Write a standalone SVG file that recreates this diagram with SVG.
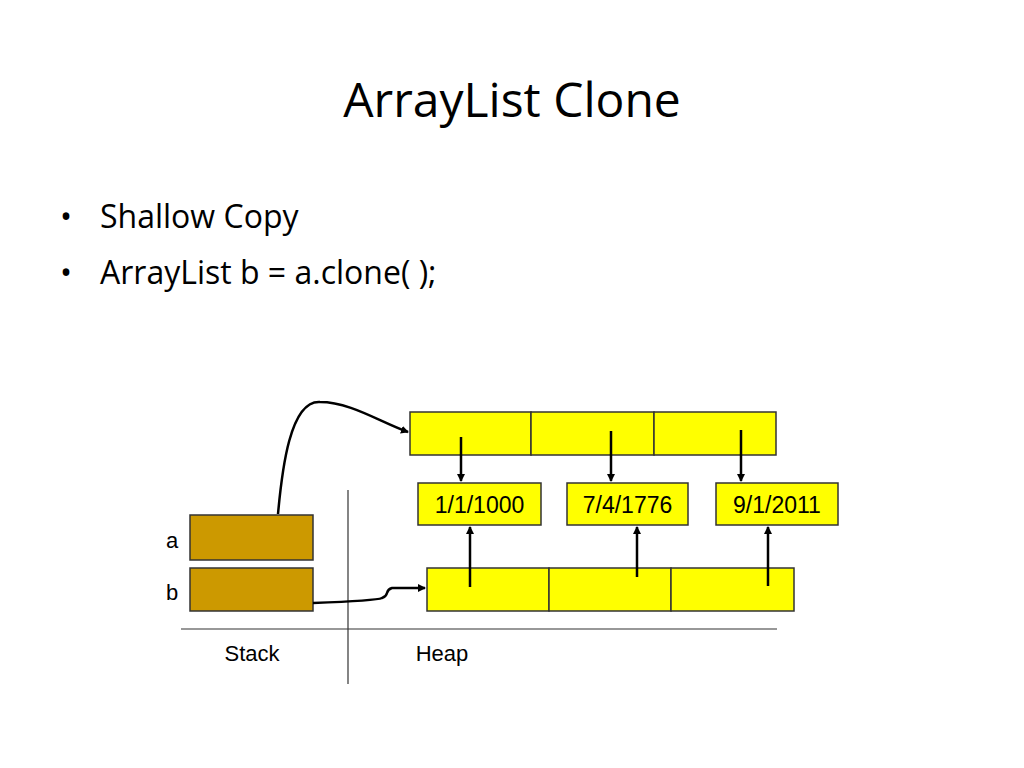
<svg xmlns="http://www.w3.org/2000/svg" width="1024" height="768" viewBox="0 0 1024 768">
<style>
.t{font-family:"Liberation Sans",Arial,sans-serif;fill:#000}
.s{font-family:"Open Sans","Liberation Sans",sans-serif;fill:#000}
.cell{fill:#ffff00;stroke:#333;stroke-width:1.5}
.stk{fill:#cc9900;stroke:#333;stroke-width:1.5}
.ar{stroke:#000;stroke-width:2.5;fill:none;marker-end:url(#ah)}
</style>
<defs><marker id="ah" markerWidth="8" markerHeight="8" refX="7" refY="4" orient="auto" markerUnits="userSpaceOnUse"><path d="M0,0 L8,4 L0,8z" fill="#000"/></marker></defs>
<rect width="1024" height="768" fill="#fff"/>
<text class="s" x="512" y="117" font-size="48" text-anchor="middle">ArrayList Clone</text>
<text class="s" x="60" y="228" font-size="32">•</text>
<text class="s" x="100" y="228" font-size="32">Shallow Copy</text>
<text class="s" x="60" y="284" font-size="32">•</text>
<text class="s" x="100" y="284" font-size="32">ArrayList b = a.clone( );</text>
<g id="axes" stroke="#333" stroke-width="1.2"><line x1="181" y1="629" x2="777" y2="629"/><line x1="348" y1="490" x2="348" y2="684"/></g>
<text class="t" x="252" y="661" font-size="22" text-anchor="middle">Stack</text>
<text class="t" x="442" y="661" font-size="22" text-anchor="middle">Heap</text>
<g id="a"><rect class="stk" x="190" y="515" width="123" height="45"/><text class="t" x="172" y="548" font-size="22" text-anchor="middle">a</text></g>
<g id="b"><rect class="stk" x="190" y="568" width="123" height="43"/><text class="t" x="172" y="600" font-size="22" text-anchor="middle">b</text></g>
<g id="listA"><rect class="cell" x="410" y="412" width="121" height="43"/><rect class="cell" x="531" y="412" width="123" height="43"/><rect class="cell" x="654" y="412" width="122" height="43"/></g>
<g id="listB"><rect class="cell" x="427" y="568" width="122" height="43"/><rect class="cell" x="549" y="568" width="122" height="43"/><rect class="cell" x="671" y="568" width="123" height="43"/></g>
<g id="d1"><rect class="cell" x="418" y="483" width="123" height="42"/><text class="t" x="479.500" y="513" font-size="23" text-anchor="middle">1/1/1000</text></g>
<g id="d2"><rect class="cell" x="567" y="483" width="121" height="42"/><text class="t" x="627.500" y="513" font-size="23" text-anchor="middle">7/4/1776</text></g>
<g id="d3"><rect class="cell" x="716" y="483" width="122" height="42"/><text class="t" x="777" y="513" font-size="23" text-anchor="middle">9/1/2011</text></g>
<g id="connectors">
<path class="ar" d="M278,514 C282,470 290,400 320,402 C350,402 380,422 408,432"/>
<path class="ar" d="M313,603 C340,602 378,600 382,598 C390,596 384,590 392,588 C400,588 412,588 425,588"/>
<line class="ar" x1="461" y1="437" x2="461" y2="481"/>
<line class="ar" x1="611" y1="431" x2="611" y2="481"/>
<line class="ar" x1="741" y1="430" x2="741" y2="481"/>
<line class="ar" x1="470" y1="587" x2="470" y2="527"/>
<line class="ar" x1="637" y1="577" x2="637" y2="527"/>
<line class="ar" x1="768" y1="586" x2="768" y2="527"/>
</g>
</svg>
